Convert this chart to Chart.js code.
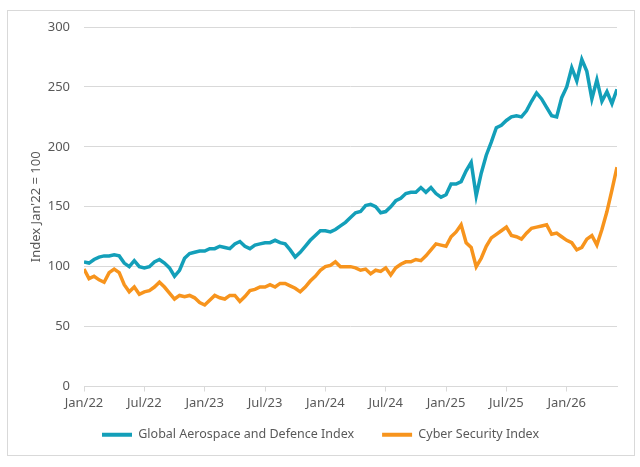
<!DOCTYPE html>
<html>
<head>
<meta charset="utf-8">
<script src="https://cdn.jsdelivr.net/npm/chart.js@4.4.1/dist/chart.umd.min.js"></script>
<style>
    html, body { margin: 0; padding: 0; background: #fff; }
    .frame { position: absolute; left: 7px; top: 10px; width: 626px; height: 444px; border: 1px solid #d9d9d9; }
    .wrap { position: absolute; left: 0; top: 0; width: 640px; height: 467px; }
</style>
</head>
<body>
<div class="frame"></div>
<div class="wrap"><canvas id="chart"></canvas></div>
<script>
// months since Jan 2022
const months = [
    0, 0.5, 1, 1.5, 2, 2.5, 3, 3.5, 4, 4.5, 5, 5.5, 6, 6.5, 7, 7.5, 8, 8.5, 9, 9.5,
    10, 10.5, 11, 11.5, 12, 12.5, 13, 13.5, 14, 14.5, 15, 15.5, 16, 16.5, 17, 17.5, 18, 18.5, 19, 19.5,
    20, 20.5, 21, 21.5, 22, 22.5, 23, 23.5, 24, 24.5, 25, 25.5, 26, 26.5, 27, 27.5, 28, 28.5, 29, 29.5,
    30, 30.5, 31, 31.5, 32, 32.5, 33, 33.5, 34, 34.5, 35, 35.5, 36, 36.5, 37, 37.5, 38, 38.5, 39, 39.5,
    40, 40.5, 41, 41.5, 42, 42.5, 43, 43.5, 44, 44.5, 45, 45.5, 46, 46.5, 47, 47.5, 48, 48.5, 49, 49.5,
    50, 50.5, 51, 51.5, 52, 52.5, 53
];

const aerospace = [
    104, 103, 106, 108, 109, 109, 110, 109, 103, 100, 105, 100, 99, 100, 104, 106, 103, 99, 92, 97,
    107, 111, 112, 113, 113, 115, 115, 117, 116, 115, 119, 121, 117, 115, 118, 119, 120, 120, 122, 120,
    119, 114, 108, 112, 117, 122, 126, 130, 130, 129, 131, 134, 137, 141, 145, 146, 151, 152, 150, 145,
    146, 150, 155, 157, 161, 162, 162, 166, 162, 166, 161, 158, 160, 169, 169, 171, 180, 187, 159, 178,
    193, 204, 216, 218, 222, 225, 226, 225, 230, 238, 245, 240, 233, 226, 225, 241, 250, 266, 255, 273,
    263, 240, 256, 238, 246, 236, 248
];

const cyber = [
    98, 90, 92, 89, 87, 95, 98, 95, 85, 79, 83, 77, 79, 80, 83, 87, 83, 78, 73, 76,
    75, 76, 74, 70, 68, 72, 76, 74, 73, 76, 76, 71, 75, 80, 81, 83, 83, 85, 83, 86,
    86, 84, 82, 79, 83, 88, 92, 97, 100, 101, 104, 100, 100, 100, 99, 97, 98, 94, 97, 96,
    99, 93, 99, 102, 104, 104, 106, 105, 109, 114, 119, 118, 117, 125, 129, 135, 120, 116, 100, 107,
    117, 124, 127, 130, 133, 126, 125, 123, 128, 132, 133, 134, 135, 127, 128, 125, 122, 120, 114, 116,
    123, 126, 118, 131, 146, 164, 183
];

const tickMonths = [0, 6, 12, 18, 24, 30, 36, 42, 48];
const tickLabels = ["Jan/22", "Jul/22", "Jan/23", "Jul/23", "Jan/24", "Jul/24", "Jan/25", "Jul/25", "Jan/26"];

const TEAL = "#139fb9";
const ORANGE = "#f7941d";
const TEXT = "#595959";
const GRID = "#d9d9d9";

const toPoints = (vals) => months.map((m, i) => ({ x: m, y: vals[i] }));

// pull the legend row up closer to the axis labels (keeps wide gap between items)
const legendNudge = {
    id: "legendNudge",
    afterLayout: (chart) => {
        const lg = chart.legend;
        if (!lg) return;
        lg.top -= 14;
        lg.bottom -= 14;
    }
};

Chart.defaults.font.family = "'Noto Sans', sans-serif";
Chart.defaults.font.size = 13;
Chart.defaults.color = TEXT;

new Chart(document.getElementById("chart"), {
    type: "line",
    plugins: [legendNudge],
    data: {
        datasets: [
            {
                label: "Global Aerospace and Defence Index",
                data: toPoints(aerospace),
                borderColor: TEAL,
                backgroundColor: TEAL,
                borderWidth: 3.5,
                pointRadius: 0,
                tension: 0
            },
            {
                label: "Cyber Security Index",
                data: toPoints(cyber),
                borderColor: ORANGE,
                backgroundColor: ORANGE,
                borderWidth: 3.5,
                pointRadius: 0,
                tension: 0
            }
        ]
    },
    options: {
        responsive: true,
        maintainAspectRatio: false,
        animation: false,
        layout: { padding: { left: 24, right: 23, top: 27, bottom: 2 } },
        plugins: {
            legend: {
                position: "bottom",
                labels: {
                    boxWidth: 30,
                    boxHeight: 4,
                    padding: 28,
                    color: TEXT,
                    font: { size: 12.5 },
                    generateLabels: (chart) =>
                        Chart.defaults.plugins.legend.labels.generateLabels(chart).map(l => ({ ...l, lineWidth: 0 }))
                }
            },
            tooltip: { enabled: false }
        },
        scales: {
            x: {
                type: "linear",
                min: 0,
                max: 53,
                afterBuildTicks: (axis) => { axis.ticks = tickMonths.map(v => ({ value: v })); },
                afterFit: (axis) => { axis.height = 28; },
                ticks: {
                    autoSkip: false,
                    maxRotation: 0,
                    padding: 4,
                    callback: (v) => tickLabels[tickMonths.indexOf(v)]
                },
                grid: { drawOnChartArea: false, drawTicks: true, tickLength: 5, color: GRID },
                border: { display: true, color: GRID }
            },
            y: {
                min: 0,
                max: 300,
                afterFit: (axis) => { axis.width = 60; },
                ticks: { stepSize: 50, padding: 14 },
                grid: { color: GRID, drawTicks: false },
                border: { display: false },
                title: {
                    display: true,
                    text: "Index Jan'22 = 100",
                    color: TEXT,
                    font: { size: 13 }
                }
            }
        }
    }
});
</script>
</body>
</html>
